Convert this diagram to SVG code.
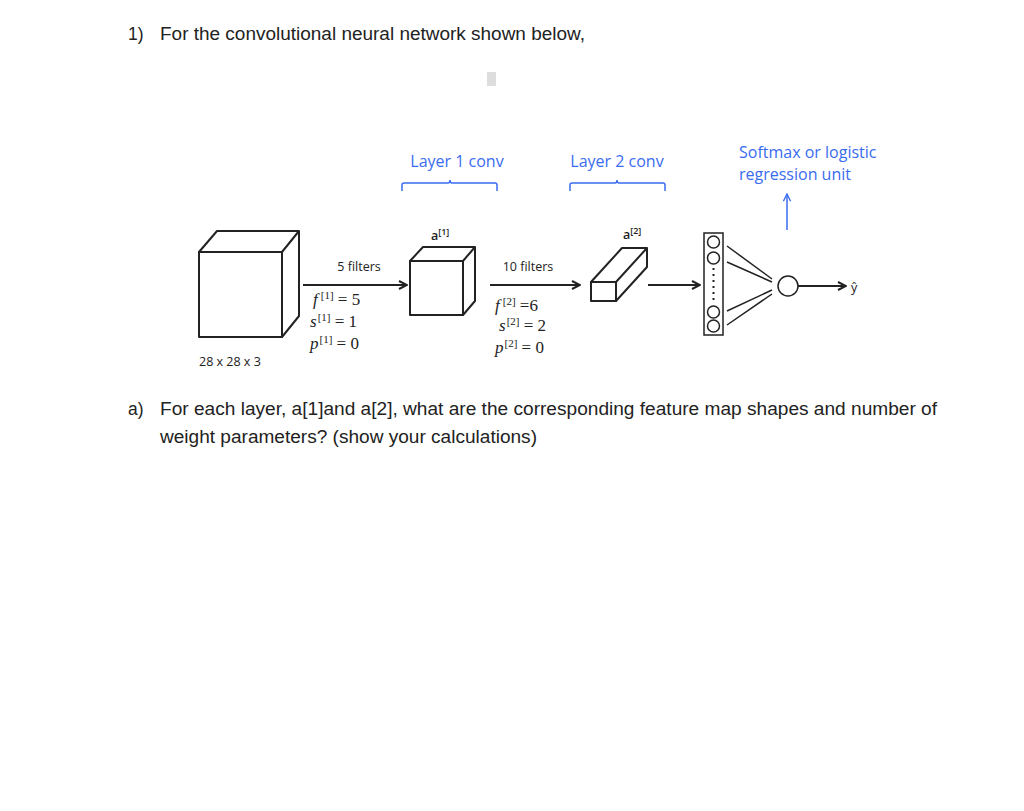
<svg xmlns="http://www.w3.org/2000/svg" width="1024" height="811" viewBox="0 0 1024 811">
<defs>
<style>
.q{font-family:"Liberation Sans",Arial,sans-serif;font-size:17.5px;fill:#222}
.d{font-family:"Open Sans","DejaVu Sans",sans-serif;font-size:12.5px;fill:#222}
.b{font-family:"Open Sans","DejaVu Sans",sans-serif;font-size:16px;fill:#3a6cf0;font-weight:500}
.m{font-family:"Liberation Serif","Times New Roman",serif;font-size:17px;fill:#222}
.sh{fill:#fff;stroke:#222;stroke-width:2;stroke-linejoin:round}
.ln{stroke:#222;stroke-width:2;fill:none}
.bl{stroke:#3a6cf0;stroke-width:1.5;fill:none}
</style>
<marker id="ah" viewBox="0 0 10 10" refX="9" refY="5" markerWidth="5" markerHeight="5" orient="auto"><path d="M1,1 L9,5 L1,9" fill="none" stroke="#222" stroke-width="2"/></marker>
<marker id="bh" viewBox="0 0 10 10" refX="9" refY="5" markerWidth="6" markerHeight="6" orient="auto"><path d="M1,1 L9,5 L1,9" fill="none" stroke="#3a6cf0" stroke-width="1.5"/></marker>
</defs>
<rect width="1024" height="811" fill="#fff"/>
<text class="q" x="128" y="40">1)</text>
<text class="q" x="160" y="40" textLength="425" lengthAdjust="spacingAndGlyphs">For the convolutional neural network shown below,</text>
<rect x="487" y="72" width="9" height="14" fill="#ddd"/>

<g id="input">
<path class="sh" d="M199,252 L217,231 L299,231 L282,252 Z M282,252 L299,231 L299,316 L282,337 Z"/>
<rect class="sh" x="199" y="252" width="83" height="85"/>
<text class="d" x="199" y="366">28 x 28 x 3</text>
</g>
<g id="a1">
<path class="sh" d="M410,261 L423,247 L475,247 L463,261 Z M463,261 L475,247 L475,301 L463,315 Z"/>
<rect class="sh" x="410" y="261" width="53" height="54"/>
<text class="d" x="431" y="240" font-size="14" font-weight="600">a<tspan font-size="9" dy="-5">[1]</tspan></text>
</g>
<g id="a2">
<path class="sh" d="M591,282 L622,248 L647,248 L616,282 Z M616,282 L647,248 L647,267 L616,301 Z"/>
<rect class="sh" x="591" y="282" width="25" height="19"/>
<text class="d" x="623" y="239" font-size="14" font-weight="600">a<tspan font-size="9" dy="-5">[2]</tspan></text>
</g>
<g id="vector">
<rect x="704" y="233" width="19" height="102" fill="#fff" stroke="#222" stroke-width="1.5"/>
<g fill="#fff" stroke="#222" stroke-width="1.5">
<circle cx="713.5" cy="242" r="6"/><circle cx="713.5" cy="258" r="6"/>
<circle cx="713.5" cy="312" r="6"/><circle cx="713.5" cy="326" r="6"/>
</g>
<path d="M713.5,268 V302" stroke="#222" stroke-width="2" stroke-dasharray="2 4"/>
</g>
<g id="output">
<circle cx="788" cy="286" r="10" fill="#fff" stroke="#222" stroke-width="1.5"/>
<text class="d" x="851" y="292" font-size="15">ŷ</text>
</g>
<g id="labels">
<text class="b" x="457" y="167" text-anchor="middle">Layer 1 conv</text>
<text class="b" x="617" y="167" text-anchor="middle">Layer 2 conv</text>
<text class="b" x="739" y="158">Softmax or logistic</text>
<text class="b" x="739" y="180">regression unit</text>
<text class="d" x="359" y="271" text-anchor="middle">5 filters</text>
<text class="d" x="528" y="271" text-anchor="middle">10 filters</text>
<text class="m" x="313" y="305"><tspan font-style="italic">f</tspan><tspan font-size="11" dx="3" dy="-6">[1]</tspan><tspan dy="6"> = 5</tspan></text>
<text class="m" x="310" y="327"><tspan font-style="italic">s</tspan><tspan font-size="11" dx="1" dy="-6">[1]</tspan><tspan dy="6"> = 1</tspan></text>
<text class="m" x="310" y="349"><tspan font-style="italic">p</tspan><tspan font-size="11" dx="1" dy="-6">[1]</tspan><tspan dy="6"> =  0</tspan></text>
<text class="m" x="495" y="311"><tspan font-style="italic">f</tspan><tspan font-size="11" dx="3" dy="-6">[2]</tspan><tspan dy="6"> =6</tspan></text>
<text class="m" x="499" y="331"><tspan font-style="italic">s</tspan><tspan font-size="11" dx="1" dy="-6">[2]</tspan><tspan dy="6"> = 2</tspan></text>
<text class="m" x="495" y="353"><tspan font-style="italic">p</tspan><tspan font-size="11" dx="1" dy="-6">[2]</tspan><tspan dy="6"> =  0</tspan></text>
</g>
<g id="connectors">
<path class="ln" d="M303,285 H407" marker-end="url(#ah)"/>
<path class="ln" d="M490,285 H580" marker-end="url(#ah)"/>
<path class="ln" d="M648,285 H700" marker-end="url(#ah)"/>
<path class="ln" d="M798,286 H846" marker-end="url(#ah)"/>
<g stroke="#222" stroke-width="1.5">
<path d="M727,246 L772,279 M727,262 L772,282 M727,311 L772,290 M727,325 L772,294"/>
</g>
<path class="bl" d="M402,191 V185 Q402,183 404,183 H448 Q450,183 450,180 Q450,183 452,183 H495 Q497,183 497,185 V191"/>
<path class="bl" d="M570,191 V185 Q570,183 572,183 H615 Q617,183 617,180 Q617,183 619,183 H663 Q665,183 665,185 V191"/>
<path class="bl" d="M787,230 V194" marker-end="url(#bh)"/>
</g>
<text class="q" x="128" y="415">a)</text>
<text class="q" x="160" y="415" textLength="777" lengthAdjust="spacingAndGlyphs">For each layer, a[1]and a[2], what are the corresponding feature map shapes and number of</text>
<text class="q" x="160" y="443" textLength="377" lengthAdjust="spacingAndGlyphs">weight parameters? (show your calculations)</text>
</svg>
